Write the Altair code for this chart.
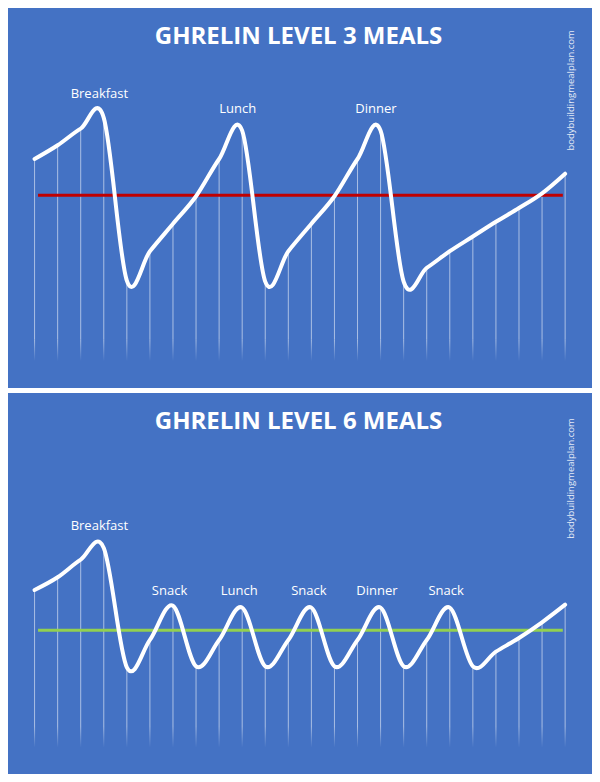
import altair as alt
import pandas as pd

# ---- data (index of hourly point, ghrelin level in arbitrary units) ----
idx = list(range(1, 25))
top_level = [206, 220, 237, 248, 82, 112, 140, 168, 206, 235, 81, 112,
             140, 168, 206, 235, 81, 95, 112, 127, 142, 156, 171, 191]
bottom_level = [161, 174, 192, 204, 82, 110, 145, 83, 110, 143, 83, 110,
                143, 83, 110, 143, 83, 110, 143, 83, 98, 112, 128, 146]
top_avg = 169
bottom_avg = 120
avg_span = [1.15, 23.9]

top_labels = ["Breakfast", "Lunch", "Dinner"]
top_label_x = [3.81, 9.81, 15.80]
top_label_y = [268, 253, 253]

bottom_labels = ["Breakfast", "Snack", "Lunch", "Snack", "Dinner", "Snack"]
bottom_label_x = [3.81, 6.85, 9.87, 12.89, 15.84, 18.84]
bottom_label_y = [222, 156, 156, 156, 156, 156]

titles = ["GHRELIN LEVEL 3 MEALS", "GHRELIN LEVEL 6 MEALS"]
watermark = "bodybuildingmealplan.com"
watermark_x = 24.24
watermark_y = [276, 275]

BLUE = "#4472C4"
W = 584
FADE = 22

fade_grad = alt.LinearGradient(
    gradient="linear",
    stops=[alt.GradientStop(color="rgba(255,255,255,0.55)", offset=0),
           alt.GradientStop(color="rgba(255,255,255,0)", offset=1)],
    x1=0, x2=0, y1=0, y2=1,
)


def panel(levels, avg, avg_color, labels, lx, ly, title, wm_y, ydomain, height):
    xs = alt.Scale(domain=[-0.152, 25.165], nice=False, zero=False, padding=0)
    ys = alt.Scale(domain=ydomain, nice=False, zero=False, padding=0)
    X = alt.X("i:Q", scale=xs, axis=None)
    Y = alt.Y("v:Q", scale=ys, axis=None)

    df = pd.DataFrame({"i": idx, "v": levels, "f": [FADE] * len(idx), "z": [0] * len(idx)})
    base = alt.Chart(df)

    drops = base.mark_rule(color="white", opacity=0.55, strokeWidth=1).encode(
        x=X, y=Y, y2="f:Q")
    fade = base.mark_bar(size=1, color=fade_grad, strokeWidth=0).encode(
        x=X, y=alt.Y("f:Q", scale=ys, axis=None), y2="z:Q")
    curve = base.mark_line(color="white", strokeWidth=4, interpolate="cardinal",
                           strokeCap="round").encode(x=X, y=Y)

    avg_df = pd.DataFrame({"i": avg_span, "v": [avg, avg]})
    avg_line = alt.Chart(avg_df).mark_line(color=avg_color, strokeWidth=3).encode(x=X, y=Y)

    lab_df = pd.DataFrame({"i": lx, "v": ly, "t": labels})
    lab = alt.Chart(lab_df).mark_text(color="white", fontSize=13, font="Open Sans",
                                      align="center", baseline="alphabetic").encode(
        x=X, y=Y, text="t:N")

    wm_df = pd.DataFrame({"i": [watermark_x], "v": [wm_y], "t": [watermark]})
    wm = alt.Chart(wm_df).mark_text(color="white", opacity=0.85, fontSize=9.5,
                                    font="Open Sans", angle=270, align="center",
                                    baseline="middle").encode(x=X, y=Y, text="t:N")

    t_df = pd.DataFrame({"t": [title]})
    ttl = alt.Chart(t_df).mark_text(color="white", fontSize=24, font="Open Sans",
                                    fontWeight="bold", align="center",
                                    baseline="alphabetic").encode(
        x=alt.value(290.5), y=alt.value(36), text="t:N")

    return alt.layer(drops, fade, avg_line, curve, lab, wm, ttl).properties(
        width=W, height=height)


top = panel(top_level, top_avg, "#C00000", top_labels, top_label_x, top_label_y,
            titles[0], watermark_y[0], [-27.5, 360], 380)
bottom = panel(bottom_level, bottom_avg, "#92D050", bottom_labels, bottom_label_x,
               bottom_label_y, titles[1], watermark_y[1], [-27, 362.3], 381)

chart = alt.vconcat(top, bottom, spacing=5).properties(
    padding=0, background="white"
).configure_view(fill=BLUE, strokeWidth=0).configure_scale(continuousPadding=0)

chart.save("out.html", embed_options={"renderer": "svg", "actions": False})
